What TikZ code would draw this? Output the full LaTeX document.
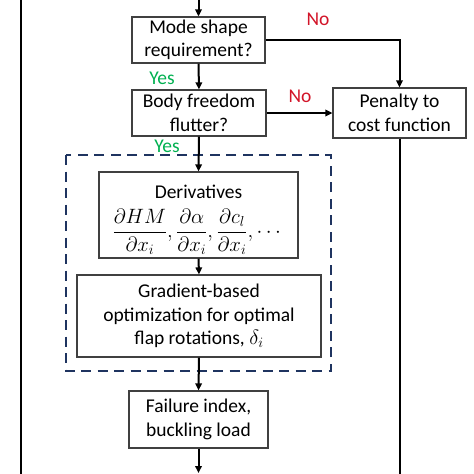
\documentclass[tikz,border=0pt]{standalone}
\usepackage{fontspec}
\setmainfont{Carlito}
\usepackage{amsmath}
\usetikzlibrary{arrows.meta}
\definecolor{navy}{RGB}{31,52,96}
\definecolor{yesgreen}{RGB}{0,176,80}
\definecolor{nored}{RGB}{210,20,40}
\begin{document}
\begin{tikzpicture}[x=1pt,y=-1pt,
  every node/.style={font=\fontsize{19.5}{23.5}\selectfont},
  box/.style={draw=black!75,line width=1.2pt,fill=white,align=center,inner sep=0pt},
  flow/.style={line width=2pt,-{Triangle[length=7pt,width=6.5pt]}},
  plain/.style={line width=2pt},
  yeslab/.style={text=yesgreen,inner sep=0pt},
  nolab/.style={text=nored,inner sep=0pt}]
\useasboundingbox (0,0) rectangle (474,474);
% dashed frame
\draw[navy,line width=2.2pt,dash pattern=on 10pt off 6.5pt] (66,155) rectangle (331,371);
% nodes
\node[box,minimum width=133pt,minimum height=46pt] (mode) at (198.5,40) {Mode shape\\requirement?};
\node[box,minimum width=134pt,minimum height=46pt] (body) at (199,113) {Body freedom\\flutter?};
\node[box,minimum width=133pt,minimum height=50pt] (pen) at (399.5,113) {Penalty to\\cost function};
\node[box,minimum width=199pt,minimum height=86pt] (der) at (198.5,215) {};
\node[inner sep=0pt] (dertxt) at (198.5,192) {Derivatives};
\node[inner sep=0pt] (dermath) at (198.5,232) {$\dfrac{\partial HM}{\partial x_i},\dfrac{\partial \alpha}{\partial x_i},\dfrac{\partial c_l}{\partial x_i},\cdots$};
\node[box,minimum width=244pt,minimum height=82pt] (grad) at (199,316) {Gradient-based\\optimization for optimal\\flap rotations, $\delta_i$};
\node[box,minimum width=139pt,minimum height=57pt] (fail) at (198.5,419.5) {Failure index,\\buckling load};
% coordinates
\coordinate (top) at (198.5,0);
\coordinate (bot) at (198.5,473);
\coordinate (penbot) at (399.5,474);
\coordinate (ltop) at (21,0);
\coordinate (lbot) at (21,474);
% connectors
\draw[line width=2.4pt] (ltop) -- (lbot);
\draw[flow] (top) -- (mode.north);
\draw[flow] (mode.south) -- (body.north);
\draw[flow] (mode.east) -| (pen.north);
\draw[flow] (body.east) -- (pen.west);
\draw[flow] (body.south) -- (der.north);
\draw[flow] (der.south) -- (grad.north);
\draw[flow] (grad.south) -- (fail.north);
\draw[flow] (fail.south) -- (bot);
\draw[plain] (pen.south) -- (penbot);
% labels
\node[nolab] (no1) at (318,19) {No};
\node[nolab] (no2) at (300,96) {No};
\node[yeslab] (yes1) at (162,78) {Yes};
\node[yeslab] (yes2) at (167,146) {Yes};
\end{tikzpicture}
\end{document}
